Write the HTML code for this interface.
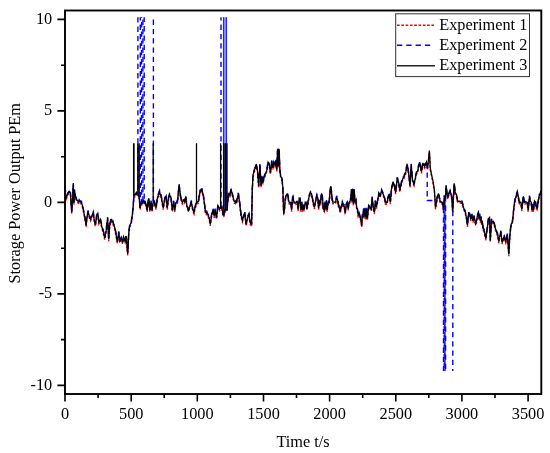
<!DOCTYPE html>
<html><head><meta charset="utf-8"><title>Storage Power Output</title><style>html,body{margin:0;padding:0;background:#fff;}svg{display:block;}</style></head><body>
<svg width="550" height="453" viewBox="0 0 550 453">
<rect width="550" height="453" fill="#fff"/>
<defs><clipPath id="c"><rect x="65" y="10.5" width="476.3" height="383.5"/></clipPath></defs>
<g clip-path="url(#c)" fill="none" stroke-linejoin="miter">
<path d="M65.0,194.8 L66.3,199.1 L67.5,196.0 L68.1,194.6 L68.7,193.2 L69.3,193.0 L70.5,195.4 L71.7,213.7 L72.7,198.5 L73.3,185.7 L73.9,204.6 L74.5,191.8 L75.4,198.5 L76.6,200.9 L77.8,202.7 L78.4,203.3 L79.0,202.1 L79.6,203.3 L80.2,203.6 L80.8,203.4 L81.4,203.9 L82.7,208.2 L83.9,214.3 L85.1,220.3 L86.1,227.0 L86.9,219.1 L88.1,213.1 L89.3,217.9 L90.6,220.9 L92.1,216.7 L93.3,214.3 L94.2,221.6 L95.4,226.4 L96.6,217.9 L97.8,215.3 L98.9,223.9 L100.4,221.0 L101.8,228.2 L103.2,232.5 L104.7,239.7 L106.1,232.5 L107.6,219.6 L108.7,241.1 L109.7,226.8 L111.1,221.0 L111.6,221.0 L112.2,223.2 L112.8,223.1 L113.3,225.3 L114.7,228.9 L116.2,236.8 L117.3,243.3 L118.8,234.0 L119.8,242.6 L121.2,239.7 L122.6,244.0 L123.6,238.3 L125.1,242.6 L126.2,237.6 L127.7,255.5 L128.8,234.0 L129.8,226.8 L131.3,223.9 L132.3,216.7 L133.2,207.9 L133.9,197.3 L133.6,197.3 L133.6,197.3 L134.0,197.3 L134.0,197.3 L135.2,196.6 L135.9,196.0 L136.5,194.7 L137.2,195.3 L137.8,195.3 L137.8,195.3 L138.5,197.6 L139.2,197.6 L139.2,197.6 L140.0,209.6 L140.7,206.6 L141.5,205.4 L142.2,203.6 L142.8,204.4 L143.3,202.7 L143.8,202.9 L144.4,203.9 L144.9,204.7 L145.5,203.6 L147.2,211.9 L148.6,199.8 L149.9,211.9 L151.0,203.1 L152.1,211.9 L153.0,204.6 L153.2,204.6 L153.2,204.6 L154.3,203.6 L156.0,209.6 L157.6,198.6 L158.3,197.0 L158.9,194.7 L159.6,193.1 L160.2,196.5 L160.9,196.5 L161.5,199.8 L163.2,209.6 L164.8,200.3 L166.1,197.6 L167.2,209.6 L168.4,200.3 L169.5,196.4 L170.9,198.6 L172.3,211.9 L173.6,203.1 L174.7,211.9 L175.8,204.2 L177.5,203.1 L179.1,186.5 L180.6,198.6 L181.9,203.1 L182.5,204.0 L183.0,202.6 L183.6,202.2 L184.1,202.2 L184.7,203.1 L185.8,198.1 L186.9,207.5 L188.5,211.9 L189.6,208.6 L190.2,206.3 L190.7,205.7 L191.3,203.1 L192.7,210.8 L194.0,214.1 L195.1,208.6 L196.5,204.6 L196.5,204.6 L196.5,204.6 L197.1,203.3 L197.8,203.8 L198.4,203.1 L200.0,192.8 L200.7,192.7 L201.3,191.6 L202.0,191.5 L203.3,196.8 L204.2,203.4 L205.5,214.0 L206.1,214.5 L206.7,213.8 L207.3,215.3 L208.6,218.0 L209.2,219.6 L209.7,222.6 L210.3,225.9 L211.6,216.6 L213.0,211.3 L214.3,218.0 L215.2,211.3 L216.5,219.3 L217.9,207.4 L219.6,210.7 L220.5,209.6 L220.6,209.6 L220.6,209.6 L221.8,208.7 L223.2,216.6 L223.8,216.6 L223.8,216.6 L225.0,211.6 L225.4,211.6 L225.4,211.6 L227.0,211.6 L227.0,211.6 L227.1,210.0 L228.5,195.4 L229.8,196.8 L231.1,191.5 L232.4,196.1 L233.1,199.0 L233.7,200.8 L234.4,203.4 L235.1,203.2 L235.7,204.1 L236.4,204.1 L237.1,201.1 L237.7,197.8 L238.4,195.4 L239.7,204.7 L241.0,216.6 L242.4,221.9 L243.7,217.3 L244.7,214.0 L246.1,225.9 L247.7,218.6 L249.0,216.0 L250.3,224.6 L251.6,225.9 L252.3,191.3 L253.0,176.4 L254.5,171.5 L256.2,166.0 L257.5,172.4 L258.7,187.9 L259.9,166.0 L261.1,187.4 L261.9,178.4 L262.9,184.4 L263.9,179.4 L265.4,175.4 L266.9,171.5 L268.1,164.0 L269.4,166.5 L270.4,174.4 L271.7,163.0 L272.9,169.5 L273.9,163.5 L275.0,166.5 L276.0,162.5 L276.8,171.5 L277.6,151.1 L278.1,167.6 L278.5,151.1 L278.9,167.6 L279.2,150.8 L279.8,171.5 L280.8,178.4 L281.8,179.4 L282.8,188.3 L283.7,215.2 L284.4,211.8 L285.1,201.9 L286.1,197.0 L287.2,195.6 L287.9,197.0 L288.6,201.9 L289.3,204.1 L290.4,204.1 L291.1,206.9 L291.6,211.8 L292.3,200.5 L293.0,198.8 L293.7,202.7 L294.6,204.1 L295.2,204.8 L295.8,204.6 L296.4,204.1 L297.4,204.1 L298.1,211.1 L299.2,200.5 L300.1,200.5 L300.9,211.8 L301.8,204.1 L302.5,211.8 L303.4,206.2 L304.1,211.1 L305.2,204.1 L306.2,204.8 L306.9,210.4 L308.0,204.1 L309.1,197.7 L310.5,194.2 L311.5,195.2 L312.6,201.2 L313.3,204.8 L314.4,209.0 L315.5,202.7 L316.9,197.0 L317.9,199.8 L318.6,209.7 L319.7,202.7 L320.6,204.1 L321.5,194.9 L322.5,199.8 L323.2,210.4 L324.3,211.8 L325.0,204.1 L325.7,210.4 L326.4,202.7 L327.1,211.8 L328.2,203.4 L329.2,204.1 L329.9,194.2 L330.8,187.8 L331.5,193.5 L332.1,200.5 L332.8,203.7 L334.2,203.7 L335.6,203.7 L336.6,198.4 L337.7,201.9 L338.4,206.9 L339.5,209.0 L340.2,213.2 L341.2,208.3 L342.3,204.1 L343.5,207.6 L344.2,207.4 L345.2,214.4 L346.2,206.4 L347.2,204.5 L348.2,210.4 L349.0,204.0 L349.9,203.0 L350.9,199.5 L351.4,191.6 L351.9,202.5 L352.7,191.1 L353.4,205.5 L354.1,191.1 L354.9,202.5 L355.9,201.5 L356.7,209.4 L357.4,210.9 L358.2,216.4 L359.1,214.4 L359.9,218.4 L360.9,221.3 L361.7,227.3 L362.4,216.4 L363.1,218.4 L363.6,210.9 L364.3,218.4 L365.0,210.4 L365.8,219.4 L366.6,210.4 L367.3,220.3 L368.0,214.4 L368.8,206.9 L369.8,208.4 L371.1,210.7 L372.2,199.1 L373.3,209.6 L374.4,214.0 L375.3,203.0 L376.4,208.5 L377.5,203.0 L378.8,195.3 L380.1,197.5 L381.6,192.0 L383.0,195.3 L384.3,198.6 L385.4,204.1 L386.0,203.5 L386.5,204.3 L387.1,204.1 L388.2,198.6 L389.3,196.4 L390.4,204.1 L391.5,189.8 L393.2,184.2 L394.3,186.4 L395.6,194.2 L397.3,179.8 L398.7,184.2 L399.8,192.0 L400.4,188.8 L401.1,186.4 L401.7,182.2 L402.3,181.9 L402.9,179.9 L403.5,179.5 L405.2,175.1 L405.9,173.3 L406.6,168.3 L407.3,166.3 L408.8,176.0 L410.0,187.5 L411.2,166.3 L412.6,182.2 L414.0,185.7 L414.6,182.6 L415.2,180.5 L415.8,176.9 L416.5,174.3 L417.2,173.3 L417.9,171.6 L418.5,167.8 L419.1,166.7 L419.7,163.6 L420.3,167.5 L420.9,170.2 L421.5,173.3 L422.9,164.5 L423.5,166.6 L424.0,166.5 L424.6,168.1 L425.2,167.1 L425.8,165.3 L426.4,163.6 L427.6,169.8 L428.2,164.1 L428.8,158.0 L429.4,152.2 L430.3,169.8 L431.7,176.9 L432.9,182.2 L434.4,191.6 L435.5,209.3 L437.2,199.5 L438.4,195.1 L439.6,200.3 L440.4,203.4 L441.6,203.4 L442.8,205.8 L443.6,211.4 L444.3,198.7 L445.4,199.5 L446.2,187.6 L447.0,195.5 L447.9,198.7 L448.9,195.5 L450.1,192.7 L451.1,195.5 L451.9,200.3 L452.7,213.0 L453.5,197.1 L454.3,185.2 L455.1,193.9 L456.3,195.5 L457.1,201.1 L458.3,203.0 L459.8,202.7 L461.0,203.4 L462.0,203.7 L463.6,209.3 L465.3,213.7 L466.4,219.2 L467.5,226.9 L468.6,214.8 L469.7,215.9 L470.8,220.8 L471.9,216.4 L473.0,222.5 L474.1,218.1 L475.6,225.3 L476.3,223.1 L476.9,220.4 L477.6,216.3 L478.4,214.6 L479.1,220.1 L479.7,216.1 L480.4,222.6 L481.0,218.6 L481.7,225.6 L482.4,223.1 L483.2,230.6 L483.9,231.2 L484.6,234.1 L485.2,237.6 L485.9,240.2 L486.5,234.4 L487.1,231.2 L487.7,226.4 L488.3,221.3 L489.5,219.3 L490.3,242.2 L491.5,221.3 L492.1,223.2 L492.7,223.6 L493.3,223.0 L493.9,224.3 L495.4,230.2 L496.1,231.6 L496.7,233.9 L497.4,235.2 L498.8,243.2 L499.5,238.7 L500.1,236.4 L500.8,233.2 L502.2,244.2 L502.9,241.4 L503.5,239.3 L504.2,238.2 L505.8,243.2 L507.4,236.2 L508.8,256.1 L509.8,237.2 L510.8,228.3 L511.4,225.0 L512.1,224.5 L512.7,221.6 L514.0,207.8 L515.0,201.8 L516.0,197.9 L517.3,193.9 L518.3,197.9 L519.0,203.2 L519.6,204.1 L520.9,204.1 L521.8,211.1 L522.6,204.5 L523.4,197.9 L524.1,203.2 L524.9,204.1 L525.5,203.2 L526.0,203.5 L526.6,203.8 L527.2,204.1 L528.2,211.8 L528.9,203.8 L529.5,198.2 L530.2,202.5 L531.2,203.8 L531.9,211.8 L532.9,206.5 L533.5,211.8 L534.5,202.5 L535.5,203.8 L536.4,209.1 L537.2,209.8 L538.2,203.2 L539.2,197.2 L540.1,195.9 L541.2,193.2" stroke="#ff0000" stroke-width="1.4" stroke-dasharray="2.7,1.6"/>
<path d="M65.0,186.5 L66.3,196.5 L67.5,193.4 L68.1,192.0 L68.7,190.6 L69.3,190.4 L70.5,192.8 L71.7,211.1 L72.7,195.9 L73.3,183.1 L73.9,202.0 L74.5,189.2 L75.4,195.9 L76.6,198.3 L77.8,200.1 L78.4,200.7 L79.0,199.5 L79.6,200.7 L80.2,201.0 L80.8,200.8 L81.4,201.3 L82.7,205.6 L83.9,211.7 L85.1,217.7 L86.1,224.4 L86.9,216.5 L88.1,210.5 L89.3,215.3 L90.6,218.3 L92.1,214.1 L93.3,211.7 L94.2,219.0 L95.4,223.8 L96.6,215.3 L97.8,212.7 L98.9,221.3 L100.4,218.4 L101.8,225.6 L103.2,229.9 L104.7,237.1 L106.1,229.9 L107.6,217.0 L108.7,238.5 L109.7,224.2 L111.1,218.4 L111.6,218.4 L112.2,220.6 L112.8,220.5 L113.3,222.7 L114.7,226.3 L116.2,234.2 L117.3,240.7 L118.8,231.4 L119.8,240.0 L121.2,237.1 L122.6,241.4 L123.6,235.7 L125.1,240.0 L126.2,235.0 L127.7,252.9 L128.8,231.4 L129.8,224.2 L131.3,221.3 L132.3,214.1 L133.2,205.3 L133.9,194.7 L133.6,194.7 L133.6,194.7 L134.0,194.7 L134.0,194.7 L135.2,194.0 L135.9,193.4 L136.5,192.1 L137.2,192.7 L137.8,192.7 L137.8,192.7 L138.5,195.0 L139.2,195.0 L139.2,195.0 L140.0,207.0 L140.7,204.0 L141.5,202.8 L142.2,201.0 L142.8,201.8 L143.3,200.1 L143.8,200.3 L144.4,201.3 L144.9,202.1 L145.5,201.0 L147.2,209.3 L148.6,197.2 L149.9,209.3 L151.0,200.5 L152.1,209.3 L153.0,202.0 L153.2,202.0 L153.2,202.0 L154.3,201.0 L156.0,207.0 L157.6,196.0 L158.3,194.4 L158.9,192.1 L159.6,190.5 L160.2,193.9 L160.9,193.9 L161.5,197.2 L163.2,207.0 L164.8,197.7 L166.1,195.0 L167.2,207.0 L168.4,197.7 L169.5,193.8 L170.9,196.0 L172.3,209.3 L173.6,200.5 L174.7,209.3 L175.8,201.6 L177.5,200.5 L179.1,183.9 L180.6,196.0 L181.9,200.5 L182.5,201.4 L183.0,200.0 L183.6,199.6 L184.1,199.6 L184.7,200.5 L185.8,195.5 L186.9,204.9 L188.5,209.3 L189.6,206.0 L190.2,203.7 L190.7,203.1 L191.3,200.5 L192.7,208.2 L194.0,211.5 L195.1,206.0 L196.5,202.0 L196.5,202.0 L196.5,202.0 L197.1,200.7 L197.8,201.2 L198.4,200.5 L200.0,190.2 L200.7,190.1 L201.3,189.0 L202.0,188.9 L203.3,194.2 L204.2,200.8 L205.5,211.4 L206.1,211.9 L206.7,211.2 L207.3,212.7 L208.6,215.4 L209.2,217.0 L209.7,220.0 L210.3,223.3 L211.6,214.0 L213.0,208.7 L214.3,215.4 L215.2,208.7 L216.5,216.7 L217.9,204.8 L219.6,208.1 L220.5,207.0 L220.6,207.0 L220.6,207.0 L221.8,206.1 L223.2,214.0 L223.8,214.0 L223.8,214.0 L225.0,209.0 L225.4,209.0 L225.4,209.0 L227.0,209.0 L227.0,209.0 L227.1,207.4 L228.5,192.8 L229.8,194.2 L231.1,188.9 L232.4,193.5 L233.1,196.4 L233.7,198.2 L234.4,200.8 L235.1,200.6 L235.7,201.5 L236.4,201.5 L237.1,198.5 L237.7,195.2 L238.4,192.8 L239.7,202.1 L241.0,214.0 L242.4,219.3 L243.7,214.7 L244.7,211.4 L246.1,223.3 L247.7,216.0 L249.0,213.4 L250.3,222.0 L251.6,223.3 L252.3,188.7 L253.0,173.8 L254.5,168.9 L256.2,163.4 L257.5,169.8 L258.7,185.3 L259.9,163.4 L261.1,184.8 L261.9,175.8 L262.9,181.8 L263.9,176.8 L265.4,172.8 L266.9,168.9 L268.1,161.4 L269.4,163.9 L270.4,171.8 L271.7,160.4 L272.9,166.9 L273.9,160.9 L275.0,163.9 L276.0,159.9 L276.8,168.9 L277.6,148.5 L278.1,165.0 L278.5,148.5 L278.9,165.0 L279.2,148.2 L279.8,168.9 L280.8,175.8 L281.8,176.8 L282.8,185.7 L283.7,212.6 L284.4,209.2 L285.1,199.3 L286.1,194.4 L287.2,193.0 L287.9,194.4 L288.6,199.3 L289.3,201.5 L290.4,201.5 L291.1,204.3 L291.6,209.2 L292.3,197.9 L293.0,196.2 L293.7,200.1 L294.6,201.5 L295.2,202.2 L295.8,202.0 L296.4,201.5 L297.4,201.5 L298.1,208.5 L299.2,197.9 L300.1,197.9 L300.9,209.2 L301.8,201.5 L302.5,209.2 L303.4,203.6 L304.1,208.5 L305.2,201.5 L306.2,202.2 L306.9,207.8 L308.0,201.5 L309.1,195.1 L310.5,191.6 L311.5,192.6 L312.6,198.6 L313.3,202.2 L314.4,206.4 L315.5,200.1 L316.9,194.4 L317.9,197.2 L318.6,207.1 L319.7,200.1 L320.6,201.5 L321.5,192.3 L322.5,197.2 L323.2,207.8 L324.3,209.2 L325.0,201.5 L325.7,207.8 L326.4,200.1 L327.1,209.2 L328.2,200.8 L329.2,201.5 L329.9,191.6 L330.8,185.2 L331.5,190.9 L332.1,197.9 L332.8,201.1 L334.2,201.1 L335.6,201.1 L336.6,195.8 L337.7,199.3 L338.4,204.3 L339.5,206.4 L340.2,210.6 L341.2,205.7 L342.3,201.5 L343.5,205.0 L344.2,204.8 L345.2,211.8 L346.2,203.8 L347.2,201.9 L348.2,207.8 L349.0,201.4 L349.9,200.4 L350.9,196.9 L351.4,189.0 L351.9,199.9 L352.7,188.5 L353.4,202.9 L354.1,188.5 L354.9,199.9 L355.9,198.9 L356.7,206.8 L357.4,208.3 L358.2,213.8 L359.1,211.8 L359.9,215.8 L360.9,218.7 L361.7,224.7 L362.4,213.8 L363.1,215.8 L363.6,208.3 L364.3,215.8 L365.0,207.8 L365.8,216.8 L366.6,207.8 L367.3,217.7 L368.0,211.8 L368.8,204.3 L369.8,205.8 L371.1,208.1 L372.2,196.5 L373.3,207.0 L374.4,211.4 L375.3,200.4 L376.4,205.9 L377.5,200.4 L378.8,192.7 L380.1,194.9 L381.6,189.4 L383.0,192.7 L384.3,196.0 L385.4,201.5 L386.0,200.9 L386.5,201.7 L387.1,201.5 L388.2,196.0 L389.3,193.8 L390.4,201.5 L391.5,187.2 L393.2,181.6 L394.3,183.8 L395.6,191.6 L397.3,177.2 L398.7,181.6 L399.8,189.4 L400.4,186.2 L401.1,183.8 L401.7,179.6 L402.3,179.3 L402.9,177.3 L403.5,176.9 L405.2,172.5 L405.9,170.7 L406.6,165.7 L407.3,163.7 L408.8,173.4 L410.0,184.9 L411.2,163.7 L412.6,179.6 L414.0,183.1 L414.6,180.0 L415.2,177.9 L415.8,174.3 L416.5,171.7 L417.2,170.7 L417.9,169.0 L418.5,165.2 L419.1,164.1 L419.7,161.0 L420.3,164.9 L420.9,167.6 L421.5,170.7 L422.9,161.9 L423.5,164.0 L424.0,163.9 L424.6,165.5 L425.2,164.5 L425.8,162.7 L426.4,161.0 L427.2,168.0 L427.2,200.5 L435.6,200.5 L437.2,196.9 L438.4,192.5 L439.6,197.7 L440.4,200.8 L441.6,200.8 L442.8,203.2 L443.6,208.8 L444.3,196.1 L445.4,196.9 L446.2,185.0 L447.0,192.9 L447.9,196.1 L448.9,192.9 L450.1,190.1 L451.1,192.9 L451.9,197.7 L452.7,210.4 L453.5,194.5 L454.3,182.6 L455.1,191.3 L456.3,192.9 L457.1,198.5 L458.3,200.4 L459.8,200.1 L461.0,200.8 L462.0,201.1 L463.6,206.7 L465.3,211.1 L466.4,216.6 L467.5,224.3 L468.6,212.2 L469.7,213.3 L470.8,218.2 L471.9,213.8 L473.0,219.9 L474.1,215.5 L475.6,222.7 L476.3,220.5 L476.9,217.8 L477.6,213.7 L478.4,212.0 L479.1,217.5 L479.7,213.5 L480.4,220.0 L481.0,216.0 L481.7,223.0 L482.4,220.5 L483.2,228.0 L483.9,228.6 L484.6,231.5 L485.2,235.0 L485.9,237.6 L486.5,231.8 L487.1,228.6 L487.7,223.8 L488.3,218.7 L489.5,216.7 L490.3,239.6 L491.5,218.7 L492.1,220.6 L492.7,221.0 L493.3,220.4 L493.9,221.7 L495.4,227.6 L496.1,229.0 L496.7,231.3 L497.4,232.6 L498.8,240.6 L499.5,236.1 L500.1,233.8 L500.8,230.6 L502.2,241.6 L502.9,238.8 L503.5,236.7 L504.2,235.6 L505.8,240.6 L507.4,233.6 L508.8,253.5 L509.8,234.6 L510.8,225.7 L511.4,222.4 L512.1,221.9 L512.7,219.0 L514.0,205.2 L515.0,199.2 L516.0,195.3 L517.3,191.3 L518.3,195.3 L519.0,200.6 L519.6,201.5 L520.9,201.5 L521.8,208.5 L522.6,201.9 L523.4,195.3 L524.1,200.6 L524.9,201.5 L525.5,200.6 L526.0,200.9 L526.6,201.2 L527.2,201.5 L528.2,209.2 L528.9,201.2 L529.5,195.6 L530.2,199.9 L531.2,201.2 L531.9,209.2 L532.9,203.9 L533.5,209.2 L534.5,199.9 L535.5,201.2 L536.4,206.5 L537.2,207.2 L538.2,200.6 L539.2,194.6 L540.1,193.3 L541.2,190.6" stroke="#0000ff" stroke-width="1.4" stroke-dasharray="5.3,4"/>
<rect x="223.0" y="17.3" width="4.0" height="191.7" fill="#8c8cff"/>
<line x1="223.5" y1="17.3" x2="223.5" y2="209.0" stroke="#2020ff" stroke-width="1.1"/>
<line x1="226.5" y1="17.3" x2="226.5" y2="209.0" stroke="#2020ff" stroke-width="1.1"/>
<line x1="137.9" y1="17.3" x2="137.9" y2="193.0" stroke="#0000ff" stroke-width="1.4" stroke-dasharray="5.3,4" stroke-dashoffset="0"/>
<line x1="140.3" y1="17.3" x2="140.3" y2="205.8" stroke="#0000ff" stroke-width="1.4" stroke-dasharray="5.3,4" stroke-dashoffset="2"/>
<line x1="141.6" y1="17.3" x2="141.6" y2="202.5" stroke="#0000ff" stroke-width="1.4" stroke-dasharray="5.3,4" stroke-dashoffset="4.5"/>
<line x1="142.9" y1="17.3" x2="142.9" y2="201.3" stroke="#0000ff" stroke-width="1.4" stroke-dasharray="5.3,4" stroke-dashoffset="7"/>
<line x1="144.2" y1="17.3" x2="144.2" y2="201.0" stroke="#0000ff" stroke-width="1.4" stroke-dasharray="5.3,4" stroke-dashoffset="0.5"/>
<line x1="153.4" y1="17.3" x2="153.4" y2="201.8" stroke="#0000ff" stroke-width="1.4" stroke-dasharray="5.3,4" stroke-dashoffset="7"/>
<line x1="221.0" y1="17.3" x2="221.0" y2="206.7" stroke="#0000ff" stroke-width="1.4" stroke-dasharray="5.3,4" stroke-dashoffset="2"/>
<line x1="443.5" y1="208.1" x2="443.5" y2="371.0" stroke="#0000ff" stroke-width="1.4" stroke-dasharray="5.3,4" stroke-dashoffset="0"/>
<line x1="444.2" y1="197.9" x2="444.2" y2="371.0" stroke="#0000ff" stroke-width="1.4" stroke-dasharray="5.3,4" stroke-dashoffset="2.3"/>
<line x1="444.9" y1="196.5" x2="444.9" y2="371.0" stroke="#0000ff" stroke-width="1.4" stroke-dasharray="5.3,4" stroke-dashoffset="4.6"/>
<line x1="445.6" y1="193.9" x2="445.6" y2="371.0" stroke="#0000ff" stroke-width="1.4" stroke-dasharray="5.3,4" stroke-dashoffset="6.9"/>
<line x1="452.8" y1="208.4" x2="452.8" y2="371.0" stroke="#0000ff" stroke-width="1.4" stroke-dasharray="5.3,4" stroke-dashoffset="6.7"/>
<path d="M65.0,193.2 L66.3,197.5 L67.5,194.4 L68.1,193.0 L68.7,191.6 L69.3,191.4 L70.5,193.8 L71.7,212.1 L72.7,196.9 L73.3,184.1 L73.9,203.0 L74.5,190.2 L75.4,196.9 L76.6,199.3 L77.8,201.1 L78.4,201.7 L79.0,200.5 L79.6,201.7 L80.2,202.0 L80.8,201.8 L81.4,202.3 L82.7,206.6 L83.9,212.7 L85.1,218.7 L86.1,225.4 L86.9,217.5 L88.1,211.5 L89.3,216.3 L90.6,219.3 L92.1,215.1 L93.3,212.7 L94.2,220.0 L95.4,224.8 L96.6,216.3 L97.8,213.7 L98.9,222.3 L100.4,219.4 L101.8,226.6 L103.2,230.9 L104.7,238.1 L106.1,230.9 L107.6,218.0 L108.7,239.5 L109.7,225.2 L111.1,219.4 L111.6,219.4 L112.2,221.6 L112.8,221.5 L113.3,223.7 L114.7,227.3 L116.2,235.2 L117.3,241.7 L118.8,232.4 L119.8,241.0 L121.2,238.1 L122.6,242.4 L123.6,236.7 L125.1,241.0 L126.2,236.0 L127.7,253.9 L128.8,232.4 L129.8,225.2 L131.3,222.3 L132.3,215.1 L133.2,206.3 L133.9,195.7 L133.6,195.7 L133.6,143.2 L133.6,195.7 L134.0,195.7 L134.0,143.2 L134.0,195.7 L135.2,195.0 L135.9,194.4 L136.5,193.1 L137.2,193.7 L137.8,193.7 L137.8,143.2 L137.8,193.7 L138.5,196.0 L139.2,196.0 L139.2,143.2 L139.2,196.0 L140.0,208.0 L140.7,205.0 L141.5,203.8 L142.2,202.0 L142.8,202.8 L143.3,201.1 L143.8,201.3 L144.4,202.3 L144.9,203.1 L145.5,202.0 L147.2,210.3 L148.6,198.2 L149.9,210.3 L151.0,201.5 L152.1,210.3 L153.0,203.0 L153.2,203.0 L153.2,143.2 L153.2,203.0 L154.3,202.0 L156.0,208.0 L157.6,197.0 L158.3,195.4 L158.9,193.1 L159.6,191.5 L160.2,194.9 L160.9,194.9 L161.5,198.2 L163.2,208.0 L164.8,198.7 L166.1,196.0 L167.2,208.0 L168.4,198.7 L169.5,194.8 L170.9,197.0 L172.3,210.3 L173.6,201.5 L174.7,210.3 L175.8,202.6 L177.5,201.5 L179.1,184.9 L180.6,197.0 L181.9,201.5 L182.5,202.4 L183.0,201.0 L183.6,200.6 L184.1,200.6 L184.7,201.5 L185.8,196.5 L186.9,205.9 L188.5,210.3 L189.6,207.0 L190.2,204.7 L190.7,204.1 L191.3,201.5 L192.7,209.2 L194.0,212.5 L195.1,207.0 L196.5,203.0 L196.5,203.0 L196.5,143.2 L196.5,203.0 L197.1,201.7 L197.8,202.2 L198.4,201.5 L200.0,191.2 L200.7,191.1 L201.3,190.0 L202.0,189.9 L203.3,195.2 L204.2,201.8 L205.5,212.4 L206.1,212.9 L206.7,212.2 L207.3,213.7 L208.6,216.4 L209.2,218.0 L209.7,221.0 L210.3,224.3 L211.6,215.0 L213.0,209.7 L214.3,216.4 L215.2,209.7 L216.5,217.7 L217.9,205.8 L219.6,209.1 L220.5,208.0 L220.6,208.0 L220.6,143.2 L220.6,208.0 L221.8,207.1 L223.2,215.0 L223.8,215.0 L223.8,143.2 L223.8,215.0 L225.0,210.0 L225.4,210.0 L225.4,143.2 L225.4,210.0 L227.0,210.0 L227.0,143.2 L227.0,210.0 L227.1,208.4 L228.5,193.8 L229.8,195.2 L231.1,189.9 L232.4,194.5 L233.1,197.4 L233.7,199.2 L234.4,201.8 L235.1,201.6 L235.7,202.5 L236.4,202.5 L237.1,199.5 L237.7,196.2 L238.4,193.8 L239.7,203.1 L241.0,215.0 L242.4,220.3 L243.7,215.7 L244.7,212.4 L246.1,224.3 L247.7,217.0 L249.0,214.4 L250.3,223.0 L251.6,224.3 L252.3,189.7 L253.0,174.8 L254.5,169.9 L256.2,164.4 L257.5,170.8 L258.7,186.3 L259.9,164.4 L261.1,185.8 L261.9,176.8 L262.9,182.8 L263.9,177.8 L265.4,173.8 L266.9,169.9 L268.1,162.4 L269.4,164.9 L270.4,172.8 L271.7,161.4 L272.9,167.9 L273.9,161.9 L275.0,164.9 L276.0,160.9 L276.8,169.9 L277.6,149.5 L278.1,166.0 L278.5,149.5 L278.9,166.0 L279.2,149.2 L279.8,169.9 L280.8,176.8 L281.8,177.8 L282.8,186.7 L283.7,213.6 L284.4,210.2 L285.1,200.3 L286.1,195.4 L287.2,194.0 L287.9,195.4 L288.6,200.3 L289.3,202.5 L290.4,202.5 L291.1,205.3 L291.6,210.2 L292.3,198.9 L293.0,197.2 L293.7,201.1 L294.6,202.5 L295.2,203.2 L295.8,203.0 L296.4,202.5 L297.4,202.5 L298.1,209.5 L299.2,198.9 L300.1,198.9 L300.9,210.2 L301.8,202.5 L302.5,210.2 L303.4,204.6 L304.1,209.5 L305.2,202.5 L306.2,203.2 L306.9,208.8 L308.0,202.5 L309.1,196.1 L310.5,192.6 L311.5,193.6 L312.6,199.6 L313.3,203.2 L314.4,207.4 L315.5,201.1 L316.9,195.4 L317.9,198.2 L318.6,208.1 L319.7,201.1 L320.6,202.5 L321.5,193.3 L322.5,198.2 L323.2,208.8 L324.3,210.2 L325.0,202.5 L325.7,208.8 L326.4,201.1 L327.1,210.2 L328.2,201.8 L329.2,202.5 L329.9,192.6 L330.8,186.2 L331.5,191.9 L332.1,198.9 L332.8,202.1 L334.2,202.1 L335.6,202.1 L336.6,196.8 L337.7,200.3 L338.4,205.3 L339.5,207.4 L340.2,211.6 L341.2,206.7 L342.3,202.5 L343.5,206.0 L344.2,205.8 L345.2,212.8 L346.2,204.8 L347.2,202.9 L348.2,208.8 L349.0,202.4 L349.9,201.4 L350.9,197.9 L351.4,190.0 L351.9,200.9 L352.7,189.5 L353.4,203.9 L354.1,189.5 L354.9,200.9 L355.9,199.9 L356.7,207.8 L357.4,209.3 L358.2,214.8 L359.1,212.8 L359.9,216.8 L360.9,219.7 L361.7,225.7 L362.4,214.8 L363.1,216.8 L363.6,209.3 L364.3,216.8 L365.0,208.8 L365.8,217.8 L366.6,208.8 L367.3,218.7 L368.0,212.8 L368.8,205.3 L369.8,206.8 L371.1,209.1 L372.2,197.5 L373.3,208.0 L374.4,212.4 L375.3,201.4 L376.4,206.9 L377.5,201.4 L378.8,193.7 L380.1,195.9 L381.6,190.4 L383.0,193.7 L384.3,197.0 L385.4,202.5 L386.0,201.9 L386.5,202.7 L387.1,202.5 L388.2,197.0 L389.3,194.8 L390.4,202.5 L391.5,188.2 L393.2,182.6 L394.3,184.8 L395.6,192.6 L397.3,178.2 L398.7,182.6 L399.8,190.4 L400.4,187.2 L401.1,184.8 L401.7,180.6 L402.3,180.3 L402.9,178.3 L403.5,177.9 L405.2,173.5 L405.9,171.7 L406.6,166.7 L407.3,164.7 L408.8,174.4 L410.0,185.9 L411.2,164.7 L412.6,180.6 L414.0,184.1 L414.6,181.0 L415.2,178.9 L415.8,175.3 L416.5,172.7 L417.2,171.7 L417.9,170.0 L418.5,166.2 L419.1,165.1 L419.7,162.0 L420.3,165.9 L420.9,168.6 L421.5,171.7 L422.9,162.9 L423.5,165.0 L424.0,164.9 L424.6,166.5 L425.2,165.5 L425.8,163.7 L426.4,162.0 L427.6,168.2 L428.2,162.5 L428.8,156.4 L429.4,150.6 L430.3,168.2 L431.7,175.3 L432.9,180.6 L434.4,190.0 L435.5,207.7 L437.2,197.9 L438.4,193.5 L439.6,198.7 L440.4,201.8 L441.6,201.8 L442.8,204.2 L443.6,209.8 L444.3,197.1 L445.4,197.9 L446.2,186.0 L447.0,193.9 L447.9,197.1 L448.9,193.9 L450.1,191.1 L451.1,193.9 L451.9,198.7 L452.7,211.4 L453.5,195.5 L454.3,183.6 L455.1,192.3 L456.3,193.9 L457.1,199.5 L458.3,201.4 L459.8,201.1 L461.0,201.8 L462.0,202.1 L463.6,207.7 L465.3,212.1 L466.4,217.6 L467.5,225.3 L468.6,213.2 L469.7,214.3 L470.8,219.2 L471.9,214.8 L473.0,220.9 L474.1,216.5 L475.6,223.7 L476.3,221.5 L476.9,218.8 L477.6,214.7 L478.4,213.0 L479.1,218.5 L479.7,214.5 L480.4,221.0 L481.0,217.0 L481.7,224.0 L482.4,221.5 L483.2,229.0 L483.9,229.6 L484.6,232.5 L485.2,236.0 L485.9,238.6 L486.5,232.8 L487.1,229.6 L487.7,224.8 L488.3,219.7 L489.5,217.7 L490.3,240.6 L491.5,219.7 L492.1,221.6 L492.7,222.0 L493.3,221.4 L493.9,222.7 L495.4,228.6 L496.1,230.0 L496.7,232.3 L497.4,233.6 L498.8,241.6 L499.5,237.1 L500.1,234.8 L500.8,231.6 L502.2,242.6 L502.9,239.8 L503.5,237.7 L504.2,236.6 L505.8,241.6 L507.4,234.6 L508.8,254.5 L509.8,235.6 L510.8,226.7 L511.4,223.4 L512.1,222.9 L512.7,220.0 L514.0,206.2 L515.0,200.2 L516.0,196.3 L517.3,192.3 L518.3,196.3 L519.0,201.6 L519.6,202.5 L520.9,202.5 L521.8,209.5 L522.6,202.9 L523.4,196.3 L524.1,201.6 L524.9,202.5 L525.5,201.6 L526.0,201.9 L526.6,202.2 L527.2,202.5 L528.2,210.2 L528.9,202.2 L529.5,196.6 L530.2,200.9 L531.2,202.2 L531.9,210.2 L532.9,204.9 L533.5,210.2 L534.5,200.9 L535.5,202.2 L536.4,207.5 L537.2,208.2 L538.2,201.6 L539.2,195.6 L540.1,194.3 L541.2,191.6" stroke="#000" stroke-width="1.3"/>
</g>
<rect x="65.0" y="10.5" width="476.3" height="383.5" fill="none" stroke="#000" stroke-width="1.9"/>
<path d="M57.4,19.4H65.0 M57.4,110.9H65.0 M57.4,202.4H65.0 M57.4,293.9H65.0 M57.4,385.4H65.0 M61.0,65.2H65.0 M61.0,156.7H65.0 M61.0,248.2H65.0 M61.0,339.6H65.0 M65.0,394.0V401.6 M131.2,394.0V401.6 M197.3,394.0V401.6 M263.5,394.0V401.6 M329.6,394.0V401.6 M395.8,394.0V401.6 M461.9,394.0V401.6 M528.1,394.0V401.6 M98.1,394.0V398.0 M164.2,394.0V398.0 M230.4,394.0V398.0 M296.5,394.0V398.0 M362.7,394.0V398.0 M428.8,394.0V398.0 M495.0,394.0V398.0" stroke="#000" stroke-width="1.6" fill="none"/>
<g font-family="Liberation Serif, serif" font-size="16.3" fill="#000">
<text x="52.2" y="23.7" text-anchor="end">10</text>
<text x="52.2" y="115.2" text-anchor="end">5</text>
<text x="52.2" y="206.7" text-anchor="end">0</text>
<text x="52.2" y="298.2" text-anchor="end">-5</text>
<text x="52.2" y="389.7" text-anchor="end">-10</text>
<text x="65.0" y="419.1" text-anchor="middle">0</text>
<text x="131.2" y="419.1" text-anchor="middle">500</text>
<text x="197.3" y="419.1" text-anchor="middle">1000</text>
<text x="263.5" y="419.1" text-anchor="middle">1500</text>
<text x="329.6" y="419.1" text-anchor="middle">2000</text>
<text x="395.8" y="419.1" text-anchor="middle">2500</text>
<text x="461.9" y="419.1" text-anchor="middle">3000</text>
<text x="528.1" y="419.1" text-anchor="middle">3500</text>
<text x="303.1" y="447" text-anchor="middle">Time t/s</text>
<text transform="translate(19.6,193.3) rotate(-90)" text-anchor="middle">Storage Power Output PEm</text>
<rect x="395.7" y="13.8" width="133.8" height="62.8" fill="#fff" stroke="#333" stroke-width="1"/>
<path d="M397,25.2H434" stroke="#ff0000" stroke-width="1.5" stroke-dasharray="2.7,1.6"/>
<path d="M397,45.25H434" stroke="#0000ff" stroke-width="1.5" stroke-dasharray="5.3,4"/>
<path d="M397,65.7H435" stroke="#222" stroke-width="1.5"/>
<text x="439.2" y="30.3">Experiment 1</text>
<text x="439.2" y="50.3">Experiment 2</text>
<text x="439.2" y="70.3">Experiment 3</text>
</g>
</svg>
</body></html>
